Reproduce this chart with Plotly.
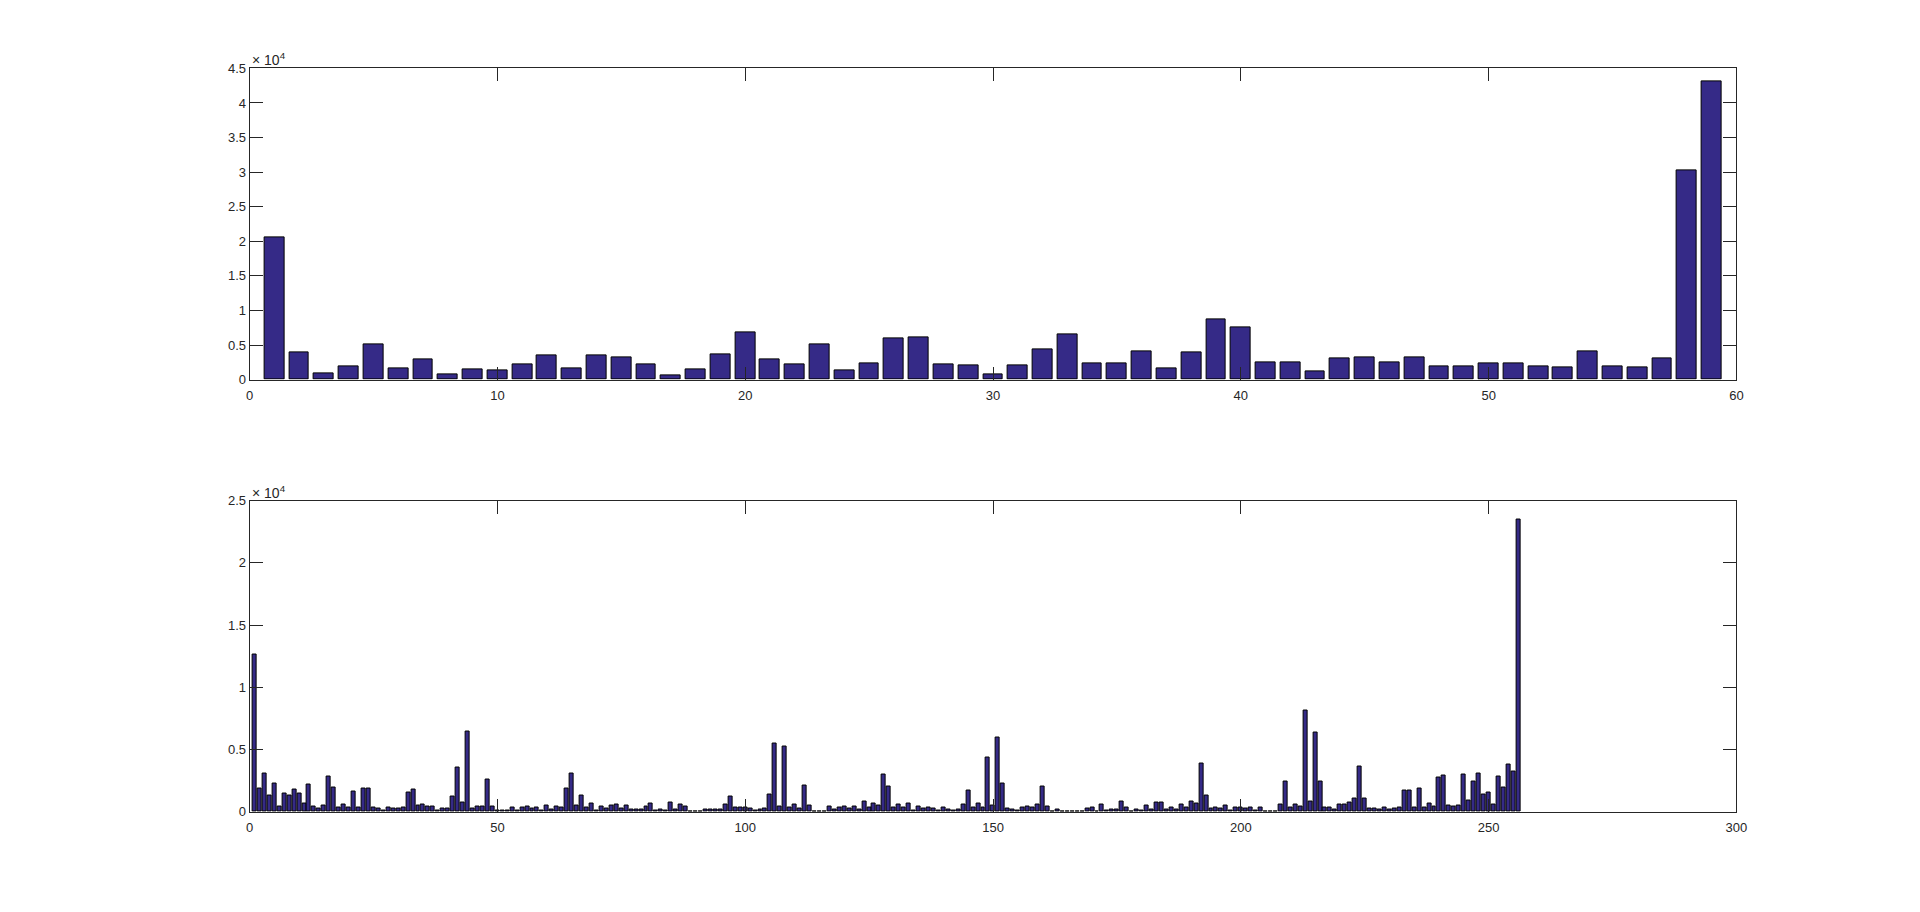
import plotly.graph_objects as go

# ---- data ----
top_x = list(range(1, 60))
top_values = [20500, 3900, 870, 1880, 5060, 1590, 2900, 720, 1450, 1300,
              2170, 3470, 1590, 3470, 3180, 2170, 580, 1450, 3620, 6800,
              2900, 2170, 5060, 1300, 2320, 5930, 6080, 2170, 2030, 720,
              2030, 4340, 6510, 2320, 2320, 4050, 1590, 3900, 8680, 7530,
              2460, 2460, 1160, 3040, 3180, 2460, 3180, 1880, 1880, 2320,
              2320, 1880, 1740, 4050, 1880, 1740, 3040, 30250, 43130]

bottom_x = list(range(1, 257))
bottom_values = [12660, 1850, 3060, 1290, 2260, 400, 1450, 1290, 1770, 1450,
                 650, 2180, 400, 240, 480, 2820, 1940, 320, 560, 320,
                 1610, 320, 1850, 1850, 320, 240, 80, 320, 240, 240,
                 320, 1530, 1770, 480, 560, 400, 400, 80, 240, 240,
                 1210, 3550, 730, 6450, 240, 400, 400, 2580, 400, 80,
                 80, 80, 320, 80, 320, 400, 240, 320, 80, 480,
                 160, 400, 320, 1850, 3060, 480, 1290, 320, 650, 80,
                 400, 240, 480, 560, 240, 480, 160, 160, 160, 400,
                 650, 80, 160, 80, 730, 160, 560, 400, 0, 0,
                 0, 160, 160, 160, 160, 560, 1210, 320, 320, 320,
                 240, 80, 160, 240, 1370, 5480, 400, 5240, 320, 560,
                 240, 2100, 480, 0, 0, 0, 400, 160, 320, 400,
                 240, 400, 160, 810, 320, 650, 480, 2980, 2020, 320,
                 560, 320, 650, 80, 400, 240, 320, 240, 80, 320,
                 160, 80, 160, 560, 1690, 320, 650, 320, 4350, 480,
                 5970, 2260, 240, 160, 80, 320, 400, 320, 560, 2020,
                 400, 0, 160, 0, 0, 0, 0, 0, 240, 320,
                 0, 560, 80, 160, 160, 810, 320, 0, 160, 80,
                 480, 160, 730, 730, 160, 320, 160, 560, 320, 810,
                 650, 3870, 1290, 240, 320, 240, 480, 80, 320, 320,
                 240, 320, 80, 320, 0, 0, 0, 560, 2420, 320,
                 560, 400, 8150, 810, 6370, 2420, 320, 320, 160, 560,
                 560, 730, 1050, 3630, 1050, 240, 240, 160, 320, 160,
                 240, 320, 1690, 1690, 320, 1850, 320, 650, 400, 2740,
                 2900, 480, 400, 480, 2980, 890, 2420, 3060, 1370, 1530,
                 560, 2820, 1940, 3790, 3230, 23470]

top_xticks = [0, 10, 20, 30, 40, 50, 60]
top_yticks = [0, 5000, 10000, 15000, 20000, 25000, 30000, 35000, 40000, 45000]
top_yticklabels = ["0", "0.5", "1", "1.5", "2", "2.5", "3", "3.5", "4", "4.5"]

bottom_xticks = [0, 50, 100, 150, 200, 250, 300]
bottom_yticks = [0, 5000, 10000, 15000, 20000, 25000]
bottom_yticklabels = ["0", "0.5", "1", "1.5", "2", "2.5"]

exponent_label = "× 10<sup>4</sup>"

# ---- style ----
BAR_COLOR = "#352A87"
AX_COLOR = "#262626"
FONT = dict(family="Liberation Sans, Arial, Helvetica, sans-serif", size=13, color=AX_COLOR)
EXP_FONT = dict(family="Liberation Sans, Arial, Helvetica, sans-serif", size=14, color=AX_COLOR)

fig = go.Figure()
fig.add_trace(go.Bar(x=top_x, y=top_values, width=0.8,
                     marker=dict(color=BAR_COLOR, line=dict(color="black", width=1)),
                     xaxis="x", yaxis="y", showlegend=False))
fig.add_trace(go.Bar(x=bottom_x, y=bottom_values, width=0.8,
                     marker=dict(color=BAR_COLOR, line=dict(color="black", width=1)),
                     xaxis="x2", yaxis="y2", showlegend=False))

axis_common = dict(showline=True, linecolor=AX_COLOR, linewidth=1, mirror="ticks",
                   ticks="inside", ticklen=13, tickcolor=AX_COLOR, tickwidth=1,
                   showgrid=False, zeroline=False, tickfont=FONT, automargin=False)

W, H = 1904, 896
x_dom = [0.1269, 0.9078]
top_dom = [0.5853, 0.9326]
bot_dom = [0.1030, 0.4503]

fig.update_layout(
    width=W, height=H,
    margin=dict(l=0, r=0, t=0, b=0, autoexpand=False),
    paper_bgcolor="white", plot_bgcolor="white",
    font=FONT,
    bargap=0,
    xaxis=dict(domain=x_dom, range=[0, 60], tickvals=top_xticks,
               anchor="y", ticklabelstandoff=4, **axis_common),
    yaxis=dict(domain=top_dom, range=[0, 45000], tickvals=top_yticks,
               ticktext=top_yticklabels, anchor="x", **axis_common),
    xaxis2=dict(domain=x_dom, range=[0, 300], tickvals=bottom_xticks,
                anchor="y2", ticklabelstandoff=4, **axis_common),
    yaxis2=dict(domain=bot_dom, range=[0, 25000], tickvals=bottom_yticks,
                ticktext=bottom_yticklabels, anchor="x2", **axis_common),
    annotations=[
        dict(text=exponent_label, xref="paper", yref="paper", x=x_dom[0], y=top_dom[1],
             xanchor="left", yanchor="bottom", showarrow=False, font=EXP_FONT, yshift=-2),
        dict(text=exponent_label, xref="paper", yref="paper", x=x_dom[0], y=bot_dom[1],
             xanchor="left", yanchor="bottom", showarrow=False, font=EXP_FONT, yshift=-2),
    ],
)

fig.write_html("out.html")
